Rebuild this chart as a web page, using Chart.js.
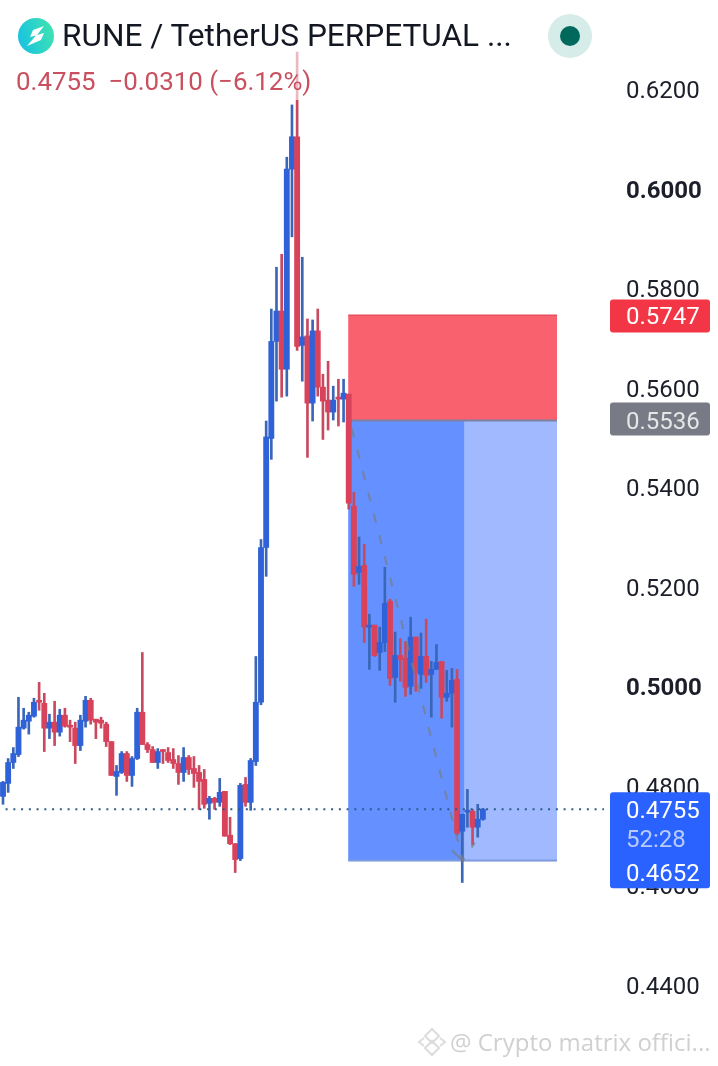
<!DOCTYPE html>
<html><head><meta charset="utf-8">
<script src="https://cdn.jsdelivr.net/npm/chart.js@4"></script>
<style>
html,body{margin:0;padding:0;background:#fff;width:718px;height:1066px;overflow:hidden}
#wrap{position:relative;width:718px;height:1066px;font-family:Roboto,sans-serif}
canvas{position:absolute;left:0;top:0}
.t{position:absolute;white-space:nowrap}
</style></head><body>
<div id="wrap">
<canvas id="c" width="718" height="1066"></canvas>
<div class="t" style="left:0;top:0;width:600px;height:100px;background:rgba(255,255,255,.62)"></div>
<svg class="t" style="left:18px;top:18px" width="36" height="36" viewBox="0 0 36 36">
<defs><linearGradient id="g" x1="0" y1="0.6" x2="1" y2="0.3"><stop offset="0" stop-color="#18c3e0"/><stop offset="1" stop-color="#3fe3b0"/></linearGradient></defs>
<circle cx="18" cy="18" r="18" fill="url(#g)"/>
<path d="M26 8 L15 12 L12 19 L18 17.5 L9 28 L23 22 L26 15 L19 17 Z" fill="#fff"/>
</svg>
<div class="t" style="left:62px;top:16px;font-size:31.6px;line-height:40px;color:#131722">RUNE / TetherUS PERPETUAL ...</div>
<div class="t" style="left:16px;top:65px;font-size:25.9px;line-height:32px;color:#c8505f">0.4755&nbsp; −0.0310 (−6.12%)</div>
<svg class="t" style="left:548px;top:14px" width="44" height="44"><circle cx="22" cy="22" r="22" fill="#d6ece8"/><circle cx="22" cy="22" r="10" fill="#00695c"/></svg>
<svg class="t" style="left:417px;top:1027px" width="30" height="30" viewBox="0 0 30 30" fill="none" stroke="#dcdcdc" stroke-width="2"><path d="M15 2 L22 9 L15 16 L8 9 Z"/><path d="M15 14 L22 21 L15 28 L8 21 Z"/><path d="M7 11 L2 15 L7 19"/><path d="M23 11 L28 15 L23 19"/></svg>
<div class="t" style="left:450px;top:1026px;font-family:'Open Sans',sans-serif;font-size:24px;line-height:32px;color:#d0d0d0">@ Crypto matrix offici...</div>
</div>
<script>
const tickValues = [0.62,0.60,0.58,0.56,0.54,0.52,0.50,0.48,0.46,0.44];
const boldTicks = [0.60,0.50];

const opens = [.4781,.4807,.4849,.4865,.4918,.4932,.4942,.4972,.4968,.4918,
.4930,.4910,.4944,.4922,.4918,.4883,.4932,.4974,.4936,.4934,
.4926,.4891,.4821,.4829,.4867,.4823,.4857,.4950,.4885,.4875,
.4849,.4873,.4869,.4855,.4847,.4829,.4859,.4837,.4829,.4815,
.4767,.4777,.4769,.4791,.4703,.4686,.4656,.4805,.4769,.4851,
.4970,.5281,.5500,.5695,.5756,.5639,.6041,.6106,.5687,.5706,
.5571,.5716,.5603,.5577,.5553,.5581,.5579,.5589,.5364,.5231,
.5245,.5121,.5125,.5070,.5090,.5173,.5020,.5064,.5058,.5002,
.5101,.5026,.5062,.5026,.5036,.5052,.4980,.4988,.5016,.4711,
.4749,.4751,.4719,.4735];
const highs = [.4811,.4857,.4879,.4980,.4958,.4950,.4978,.5010,.4988,.4946,
.4972,.4956,.4958,.4934,.4930,.4944,.4982,.4978,.4936,.4940,
.4930,.4891,.4843,.4871,.4871,.4861,.4958,.5070,.4889,.4881,
.4877,.4875,.4879,.4877,.4863,.4879,.4863,.4861,.4843,.4835,
.4781,.4779,.4817,.4791,.4739,.4686,.4807,.4819,.4857,.5062,
.5297,.5535,.5760,.5844,.5870,.6065,.6170,.6276,.5864,.5740,
.5738,.5760,.5629,.5655,.5605,.5619,.5619,.5589,.5392,.5302,
.5287,.5147,.5125,.5121,.5241,.5177,.5111,.5098,.5092,.5141,
.5101,.5109,.5137,.5052,.5086,.5052,.5034,.5038,.5036,.4745,
.4795,.4755,.4765,.4757];
const lows = [.4765,.4789,.4837,.4861,.4916,.4906,.4940,.4954,.4871,.4897,
.4883,.4902,.4920,.4891,.4847,.4873,.4920,.4926,.4897,.4918,
.4881,.4823,.4783,.4827,.4811,.4801,.4855,.4885,.4869,.4849,
.4837,.4847,.4849,.4837,.4805,.4811,.4825,.4799,.4755,.4757,
.4735,.4755,.4761,.4701,.4684,.4628,.4652,.4761,.4753,.4843,
.4965,.5223,.5458,.5575,.5583,.5585,.5905,.5677,.5615,.5462,
.5535,.5585,.5498,.5517,.5537,.5525,.5533,.5358,.5203,.5207,
.5090,.5036,.5062,.5034,.5072,.5004,.4970,.5012,.4982,.4986,
.4992,.4998,.5010,.4940,.5036,.4938,.4972,.4920,.4703,.4608,
.4719,.4684,.4699,.4733];
const closes = [.4809,.4849,.4867,.4920,.4934,.4944,.4970,.4970,.4918,.4930,
.4910,.4944,.4922,.4920,.4883,.4934,.4974,.4934,.4930,.4928,
.4891,.4823,.4831,.4867,.4823,.4857,.4950,.4885,.4875,.4849,
.4871,.4871,.4853,.4847,.4829,.4859,.4835,.4827,.4811,.4765,
.4777,.4769,.4789,.4701,.4686,.4654,.4803,.4769,.4853,.4970,
.5281,.5503,.5695,.5756,.5639,.6041,.6106,.5685,.5704,.5571,
.5716,.5603,.5575,.5553,.5577,.5579,.5591,.5370,.5227,.5243,
.5121,.5125,.5064,.5090,.5169,.5018,.5064,.5056,.5000,.5101,
.5030,.5062,.5024,.5036,.5050,.4980,.4988,.5014,.4707,.4745,
.4753,.4719,.4735,.4755];

const stopPrice = 0.5747, entryPrice = 0.5536, targetPrice = 0.4652, lastPrice = 0.4755;
const boxStart = 66.9, boxMid = 89.44, boxEnd = 107.36;
const forecastX = [67.6, 89.1, 91.4];
const forecastY = [0.5520, 0.4652, 0.4688];
const arrowX = [87.0, 89.1];
const arrowY = [0.4672, 0.4652];

const UP='#2f62d8', DOWN='#d8425a', UPW='#3a66b8', DOWNW='#c84a60';
const wicks = highs.map((h,i)=>({x:i,y:[lows[i],h]}));
const bodies = opens.map((o,i)=>({x:i,y:[o,closes[i]]}));
const isUp = i => closes[i]>=opens[i];

const overlay = {
  id:'overlay',
  beforeDatasetsDraw(ch){
    const {ctx,scales:{x,y}}=ch;
    const x0=x.getPixelForValue(boxStart),x1=x.getPixelForValue(boxMid),x2=x.getPixelForValue(boxEnd);
    const yS=y.getPixelForValue(stopPrice),yE=y.getPixelForValue(entryPrice),yT=y.getPixelForValue(targetPrice);
    ctx.save();
    ctx.fillStyle='#f9616f';ctx.fillRect(x0,yS,x2-x0,yE-yS);
    ctx.fillStyle='#a0b9ff';ctx.fillRect(x1,yE,x2-x1,yT-yE);
    ctx.fillStyle='#6491ff';ctx.fillRect(x0,yE,x1-x0,yT-yE);
    ctx.fillStyle='#e5505f';ctx.fillRect(x0,yS-1,x2-x0,1.5);
    ctx.fillStyle='#7a83a5';ctx.fillRect(x0,yE-1,x2-x0,2);
    ctx.fillStyle='#7f9be0';ctx.fillRect(x0,yT-1,x2-x0,2);
    ctx.restore();
  },
  afterDraw(ch){
    const {ctx,scales:{y}}=ch;
    const tag=(top,h,col)=>{ctx.fillStyle=col;ctx.beginPath();ctx.roundRect(610,top,100,h,3);ctx.fill();};
    const txt=(s,py,col)=>{ctx.fillStyle=col;ctx.fillText(s,626,py);};
    ctx.save();
    ctx.font='24px Roboto';ctx.textBaseline='middle';ctx.textAlign='left';
    const s=y.getPixelForValue(stopPrice), e=y.getPixelForValue(entryPrice), l=y.getPixelForValue(lastPrice), t=y.getPixelForValue(targetPrice);
    tag(s-16,33,'#f23645');txt(stopPrice.toFixed(4),s+3,'#fff');
    tag(e-18,33,'#787b86');txt(entryPrice.toFixed(4),e+2,'#e6e6e6');
    tag(l-17,96,'#2962ff');
    txt(lastPrice.toFixed(4),l+3,'#fff');
    txt('52:28',l+32,'#b8cbff');
    txt(targetPrice.toFixed(4),t+14,'#fff');
    ctx.restore();
  }
};

new Chart(document.getElementById('c'),{
  type:'bar',
  data:{datasets:[
    {type:'line',order:1,data:forecastX.map((v,i)=>({x:v,y:forecastY[i]})),borderColor:'rgba(120,125,140,.75)',borderWidth:2.2,borderDash:[9,13],pointRadius:0,tension:0},
    {type:'line',order:1,data:arrowX.map((v,i)=>({x:v,y:arrowY[i]})),borderColor:'rgba(120,125,140,.75)',borderWidth:2,pointRadius:0},
    {type:'line',order:2,data:[{x:-1,y:lastPrice},{x:116.5,y:lastPrice}],borderColor:'#2f5a8a',borderWidth:2,borderDash:[2,5.75],pointRadius:0},
    {order:3,data:bodies,barThickness:5.2,minBarLength:2,grouped:false,backgroundColor:bodies.map((_,i)=>isUp(i)?UP:DOWN)},
    {order:4,data:wicks,barThickness:2,grouped:false,backgroundColor:wicks.map((_,i)=>isUp(i)?UPW:DOWNW)}
  ]},
  plugins:[overlay],
  options:{
    responsive:false,animation:false,devicePixelRatio:1,
    layout:{padding:0},
    plugins:{legend:{display:false},tooltip:{enabled:false},title:{display:false}},
    scales:{
      x:{type:'linear',display:false,offset:false,min:-0.581,max:116.47,grid:{display:false}},
      y:{type:'linear',position:'right',min:0.42393,max:0.63808,
        grid:{display:false,drawTicks:false},border:{display:false},
        afterBuildTicks(a){a.ticks=tickValues.map(v=>({value:v}));},
        afterFit(a){a.width=114;a.paddingTop=0;a.paddingBottom=0;},
        ticks:{autoSkip:false,padding:22,crossAlign:'near',color:'#1c1f2a',labelOffset:2,
          font:c=>({family:'Roboto',size:24,weight:(c.tick&&boldTicks.includes(c.tick.value))?'bold':'normal'}),
          callback:v=>Number(v).toFixed(4)}
      }
    }
  }
});
</script>
</body></html>
